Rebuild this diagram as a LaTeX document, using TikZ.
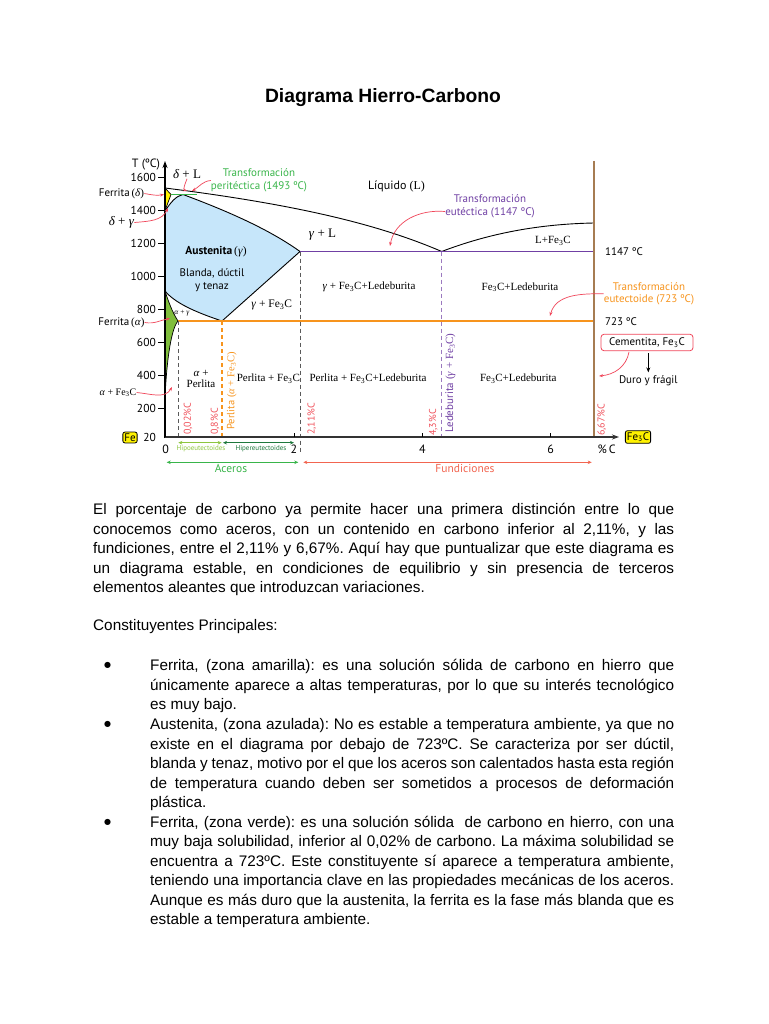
\documentclass[tikz,border=0pt]{standalone}
\usepackage{fontspec}
\setmainfont{Liberation Sans}
\newfontfamily\dgmfont{PT Sans}
\newfontfamily\serfont{Liberation Serif}
\newfontfamily\bulfont{DejaVu Sans}
\usetikzlibrary{arrows.meta}
\setlength{\parindent}{0pt}
\hyphenpenalty=10000
\exhyphenpenalty=10000
\frenchspacing

\definecolor{austblue}{RGB}{198,230,250}
\definecolor{feyel}{RGB}{255,242,0}
\definecolor{ferrgreen}{RGB}{128,190,60}
\definecolor{perigreen}{RGB}{57,181,74}
\definecolor{eutpurple}{RGB}{112,64,164}
\definecolor{eutorange}{RGB}{247,148,29}
\definecolor{callred}{RGB}{240,70,90}
\definecolor{pctred}{RGB}{240,80,90}
\definecolor{cembrown}{RGB}{166,124,82}
\definecolor{dashgray}{RGB}{90,90,90}
\definecolor{hipogreen}{RGB}{141,198,63}
\definecolor{hipergreen}{RGB}{30,120,60}
\definecolor{fundred}{RGB}{242,101,80}

\tikzset{
  lbl/.style={font=\dgmfont\fontsize{11}{12.7}\selectfont, inner sep=0pt, align=center},
  fase/.style={font=\serfont\fontsize{11}{13}\selectfont, inner sep=0pt},
  pct/.style={font=\dgmfont\fontsize{10}{12}\selectfont, text=pctred, rotate=90, anchor=west, inner sep=0pt},
  callout/.style={draw=callred, line width=0.7pt, -{Stealth[length=4pt,width=3pt]}},
  fase line/.style={line width=0.9pt},
  guide/.style={dash pattern=on 4pt off 3pt, line width=1.1pt},
  rango/.style={line width=1pt, {Stealth[length=4pt,width=3.5pt]}-{Stealth[length=4pt,width=3.5pt]}},
  elem/.style={draw=black, fill=feyel, rounded corners=2pt, line width=0.8pt, inner sep=1.5pt, font=\dgmfont\fontsize{11}{12}\selectfont},
  para/.style={anchor=base west, align=justify, inner sep=0pt, font=\fontsize{15.3}{19.5}\selectfont},
  bul/.style={inner sep=0pt, font=\bulfont\fontsize{8}{8}\selectfont},
}

\begin{document}
\begin{tikzpicture}[x=1pt,y=-1pt]
  \useasboundingbox (0,0) rectangle (768,1024);
  \fill[white] (0,0) rectangle (768,1024);

  \node[inner sep=0pt, font=\bfseries\fontsize{19.3}{23}\selectfont] (titulo) at (383,98) {Diagrama Hierro-Carbono};

  % zonas de fase
  \fill[austblue] (165,211) .. controls (171,202) and (176,196) .. (183,194.5)
    .. controls (230,212) and (270,230) .. (300,251.5) -- (222,321)
    .. controls (195,312) and (175,303) .. (165,291) -- cycle;
  \filldraw[fill=feyel, line width=0.7pt] (165,188) -- (171,194.5) .. controls (169,200) and (167,205) .. (165,211);
  \filldraw[fill=ferrgreen, line width=0.7pt] (165,291) .. controls (168,300) and (172,312) .. (178,321)
    .. controls (170,330) and (166,370) .. (165,400);

  % lineas
  \draw[fase line] (165,188) .. controls (300,205) and (380,225) .. (441.7,251.5)
    .. controls (490,233) and (540,224) .. (594,223);
  \draw[fase line] (183,194.5) .. controls (230,212) and (270,230) .. (300,251.5) -- (222,321)
    .. controls (195,312) and (175,303) .. (165,291);
  \draw[fase line] (183,194.5) .. controls (176,196) and (171,202) .. (165,211);
  \draw[perigreen, line width=1.3pt] (171,194.5) -- (197,194.5);
  \draw[eutpurple, line width=1.4pt] (300,251.5) -- (594,251.5);
  \draw[eutorange, line width=1.3pt] (178,321) -- (594,321);
  \draw[cembrown, line width=1.3pt] (594,161) -- (594,437);

  \draw[guide, dashgray] (178.3,321) -- (178.3,437);
  \draw[guide, eutorange] (222,321) -- (222,437);
  \draw[guide, dashgray] (300.7,251.5) -- (300.7,452);
  \draw[guide, eutpurple!70] (441.7,251.5) -- (441.7,437);

  % ejes
  \draw[line width=1.6pt, -{Stealth[length=7pt,width=5pt]}] (165,438) -- (165,161);
  \draw[line width=1.1pt, black!80, -{Stealth[length=7pt,width=5pt]}] (165,437) -- (619,437);
  \foreach \t in {200,400,...,1600}{
    \draw[line width=0.9pt] (158,{441.2-0.1647*\t}) -- (165,{441.2-0.1647*\t});
    \node[lbl, anchor=east, font=\dgmfont\fontsize{11.5}{13}\selectfont] (t\t) at (156,{441.2-0.1647*\t}) {\t};
  }
  \node[lbl, anchor=east, font=\dgmfont\fontsize{11.5}{13}\selectfont] (t20) at (156,437.9) {20};
  \foreach \c/\x in {0/165.7,2/294,4/422.3,6/550.7}{
    \draw[line width=0.9pt] (\x,437) -- (\x,432.5);
    \node[lbl, font=\dgmfont\fontsize{12}{13}\selectfont] (c\c) at (\x,449) {\c};
  }
  \node[lbl, font=\dgmfont\fontsize{12}{13}\selectfont] (pc) at (606.7,449) {\%\,C};
  \node[lbl, font=\dgmfont\fontsize{12}{13}\selectfont] (tc) at (146,165) {T (ºC)};
  \node[elem] (fe) at (130,437.5) {Fe};
  \node[elem] (fe3c) at (638,437) {Fe\textsubscript{3}C};

  % etiquetas de zonas
  \node[fase, font=\serfont\fontsize{13}{14}\selectfont] (dl) at (187,174) {\textit{δ} + L};
  \node[fase, font=\serfont\fontsize{13}{14}\selectfont] (dg) at (121.5,222.5) {\textit{δ} + \textit{γ}};
  \node[lbl] (ferrd) at (121.5,193.5) {Ferrita\,{\serfont(\textit{δ})}};
  \node[lbl, text=perigreen] (peritext) at (259,180.5) {Transformación\\peritéctica (1493 ºC)};
  \node[lbl, font=\dgmfont\fontsize{12}{13}\selectfont] (liq) at (396.5,186) {Líquido {\serfont(L)}};
  \node[fase, font=\serfont\fontsize{13}{14}\selectfont] (gl) at (322.5,235) {\textit{γ} + L};
  \node[lbl, font=\dgmfont\fontsize{11.5}{13}\selectfont] (aust) at (216,251.7) {{\bfseries Austenita}\,{\serfont(\textit{γ})}};
  \node[lbl, font=\dgmfont\fontsize{11}{13.4}\selectfont] (blanda) at (212,280) {Blanda, dúctil\\y tenaz};
  \node[fase, font=\serfont\fontsize{11.5}{13}\selectfont] (gfe) at (271.7,305) {\textit{γ} + Fe\textsubscript{3}C};
  \node[fase, font=\serfont\fontsize{7.5}{8}\selectfont] (ag) at (182,313) {\textit{α} + \textit{γ}};
  \node[lbl, text=eutpurple] (eutext) at (490,206.5) {Transformación\\eutéctica (1147 ºC)};
  \node[fase] (lfe) at (553,240.7) {L+Fe\textsubscript{3}C};
  \node[lbl, anchor=west] (t1147) at (605,251.5) {1147 ºC};
  \node[fase] (gled) at (369,287.3) {\textit{γ} + Fe\textsubscript{3}C+Ledeburita};
  \node[fase] (fled) at (520,287.3) {Fe\textsubscript{3}C+Ledeburita};
  \node[lbl, text=eutorange] (eutoide) at (649,293.7) {Transformación\\eutectoide (723 ºC)};
  \node[lbl, anchor=west] (t723) at (605,321.7) {723 ºC};
  \node[lbl, draw=callred, rounded corners=3pt, line width=0.8pt, minimum width=92pt, minimum height=16.4pt] (cem) at (647,342.5) {Cementita, Fe\textsubscript{3}C};
  \node[lbl] (duro) at (648.3,380.7) {Duro y frágil};
  \node[fase, align=center, font=\serfont\fontsize{11}{10.5}\selectfont] (aperl) at (201,379) {\textit{α} +\\Perlita};
  \node[fase] (pfe) at (268.3,378.7) {Perlita + Fe\textsubscript{3}C};
  \node[fase] (pled) at (368,378.7) {Perlita + Fe\textsubscript{3}C+Ledeburita};
  \node[fase] (fled2) at (518.3,378.7) {Fe\textsubscript{3}C+Ledeburita};
  \node[lbl] (ferra) at (121.5,322.5) {Ferrita\,{\serfont(\textit{α})}};
  \node[fase, font=\serfont\fontsize{10}{12}\selectfont] (afe) at (118,392.5) {\textit{α} + Fe\textsubscript{3}C};

  % etiquetas verticales
  \node[lbl, rotate=90, text=eutpurple, font=\dgmfont\fontsize{11}{12}\selectfont] (ledeb) at (450.5,383) {Ledeburita {\serfont(\textit{γ} + Fe\textsubscript{3}C)}};
  \node[lbl, rotate=90, text=eutorange, font=\dgmfont\fontsize{10.5}{12}\selectfont] (perl) at (231.7,391) {Perlita {\serfont(\textit{α} + Fe\textsubscript{3}C)}};
  \node[pct] (p002) at (188,435) {0,02\%C};
  \node[pct] (p08) at (215,435) {0,8\%C};
  \node[pct] (p211) at (311.7,435) {2,11\%C};
  \node[pct] (p43) at (433.3,436) {4,3\%C};
  \node[pct] (p667) at (601.7,436) {6,67\%C};

  % flechas de llamada
  \coordinate (pdelta) at (164,194.5);
  \coordinate (pdg) at (168,208);
  \coordinate (pdl) at (187,190.5);
  \coordinate (pperi) at (192,191);
  \coordinate (peut) at (390,246);
  \coordinate (peutoide) at (550,316);
  \coordinate (cemfoot) at (629,352);
  \coordinate (pcem) at (599,376);
  \coordinate (pferra) at (170,318.5);
  \coordinate (pafe) at (172,387);
  \draw[callout] (ferrd.east) to[out=-10,in=190] (pdelta);
  \draw[callout] (dg.east) to[out=5,in=-115] (pdg);
  \draw[callout] (dl.south) to[out=-110,in=170] (pdl);
  \draw[callout] (peritext.west) to[out=185,in=30] (pperi);
  \draw[callout] (eutext.west) ++(0,5) to[out=175,in=80] (peut);
  \draw[callout] (eutoide.west) to[out=180,in=75] (peutoide);
  \draw[callout] (cemfoot) to[out=-100,in=5] (pcem);
  \draw[callout] (ferra.east) to[out=-10,in=190] (pferra);
  \draw[callout] (afe.east) to[out=-5,in=-120] (pafe);
  \draw[line width=0.8pt, -{Stealth[length=5pt,width=4pt]}, shorten <=2pt, shorten >=3pt] (cem.south -| duro.north) -- (duro.north);

  % rangos de aceros y fundiciones
  \coordinate (hipoL) at (178.3,442.7);
  \coordinate (hipoR) at (221.7,442.7);
  \coordinate (hiperL) at (223,442.7);
  \coordinate (hiperR) at (294,442.7);
  \coordinate (acerL) at (166.7,462.3);
  \coordinate (acerR) at (298.3,462.3);
  \coordinate (fundL) at (303.3,462.3);
  \coordinate (fundR) at (591.7,462.3);
  \draw[rango, hipogreen, line width=0.8pt] (hipoL) -- (hipoR);
  \draw[rango, hipergreen, line width=0.8pt] (hiperL) -- (hiperR);
  \draw[rango, perigreen] (acerL) -- (acerR);
  \draw[rango, fundred] (fundL) -- (fundR);
  \node[lbl, text=hipogreen, font=\dgmfont\fontsize{7}{8}\selectfont] (hipo) at (201,449) {Hipoeutectoides};
  \node[lbl, text=hipergreen, font=\dgmfont\fontsize{7}{8}\selectfont] (hiper) at (261,449) {Hipereutectoides};
  \node[lbl, text=perigreen, font=\dgmfont\fontsize{11.5}{13}\selectfont] (aceros) at (231,468) {Aceros};
  \node[lbl, text=fundred, font=\dgmfont\fontsize{11.5}{13}\selectfont] (fund) at (465,468.3) {Fundiciones};

  % texto
  \node[para, text width=581pt] (intro) at (93,514.5) {El porcentaje de carbono ya permite hacer una primera distinción entre lo que\linebreak conocemos como aceros, con un contenido en carbono inferior al 2,11\%, y las\linebreak fundiciones, entre el 2,11\% y 6,67\%. Aquí hay que puntualizar que este diagrama es\linebreak un diagrama estable, en condiciones de equilibrio y sin presencia de terceros\linebreak elementos aleantes que introduzcan variaciones.};
  \node[para] (subtit) at (93,630.5) {Constituyentes Principales:};
  \node[bul] (b1) at (107.5,665.5) {●};
  \node[bul] (b2) at (107.5,724.5) {●};
  \node[bul] (b3) at (107.5,822) {●};
  \node[para, text width=524pt] (item1) at (150,670.5) {Ferrita, (zona amarilla): es una solución sólida de carbono en hierro que\linebreak únicamente aparece a altas temperaturas, por lo que su interés tecnológico\linebreak es muy bajo.};
  \node[para, text width=524pt] (item2) at (150,729.5) {Austenita, (zona azulada): No es estable a temperatura ambiente, ya que no\linebreak existe en el diagrama por debajo de 723ºC. Se caracteriza por ser dúctil,\linebreak blanda y tenaz, motivo por el que los aceros son calentados hasta esta región\linebreak de temperatura cuando deben ser sometidos a procesos de deformación\linebreak plástica.};
  \node[para, text width=524pt] (item3) at (150,827) {Ferrita, (zona verde): es una solución sólida\ \ de carbono en hierro, con una\linebreak muy baja solubilidad, inferior al 0,02\% de carbono. La máxima solubilidad se\linebreak encuentra a 723ºC. Este constituyente sí aparece a temperatura ambiente,\linebreak teniendo una importancia clave en las propiedades mecánicas de los aceros.\linebreak Aunque es más duro que la austenita, la ferrita es la fase más blanda que es\linebreak estable a temperatura ambiente.};
\end{tikzpicture}
\end{document}
